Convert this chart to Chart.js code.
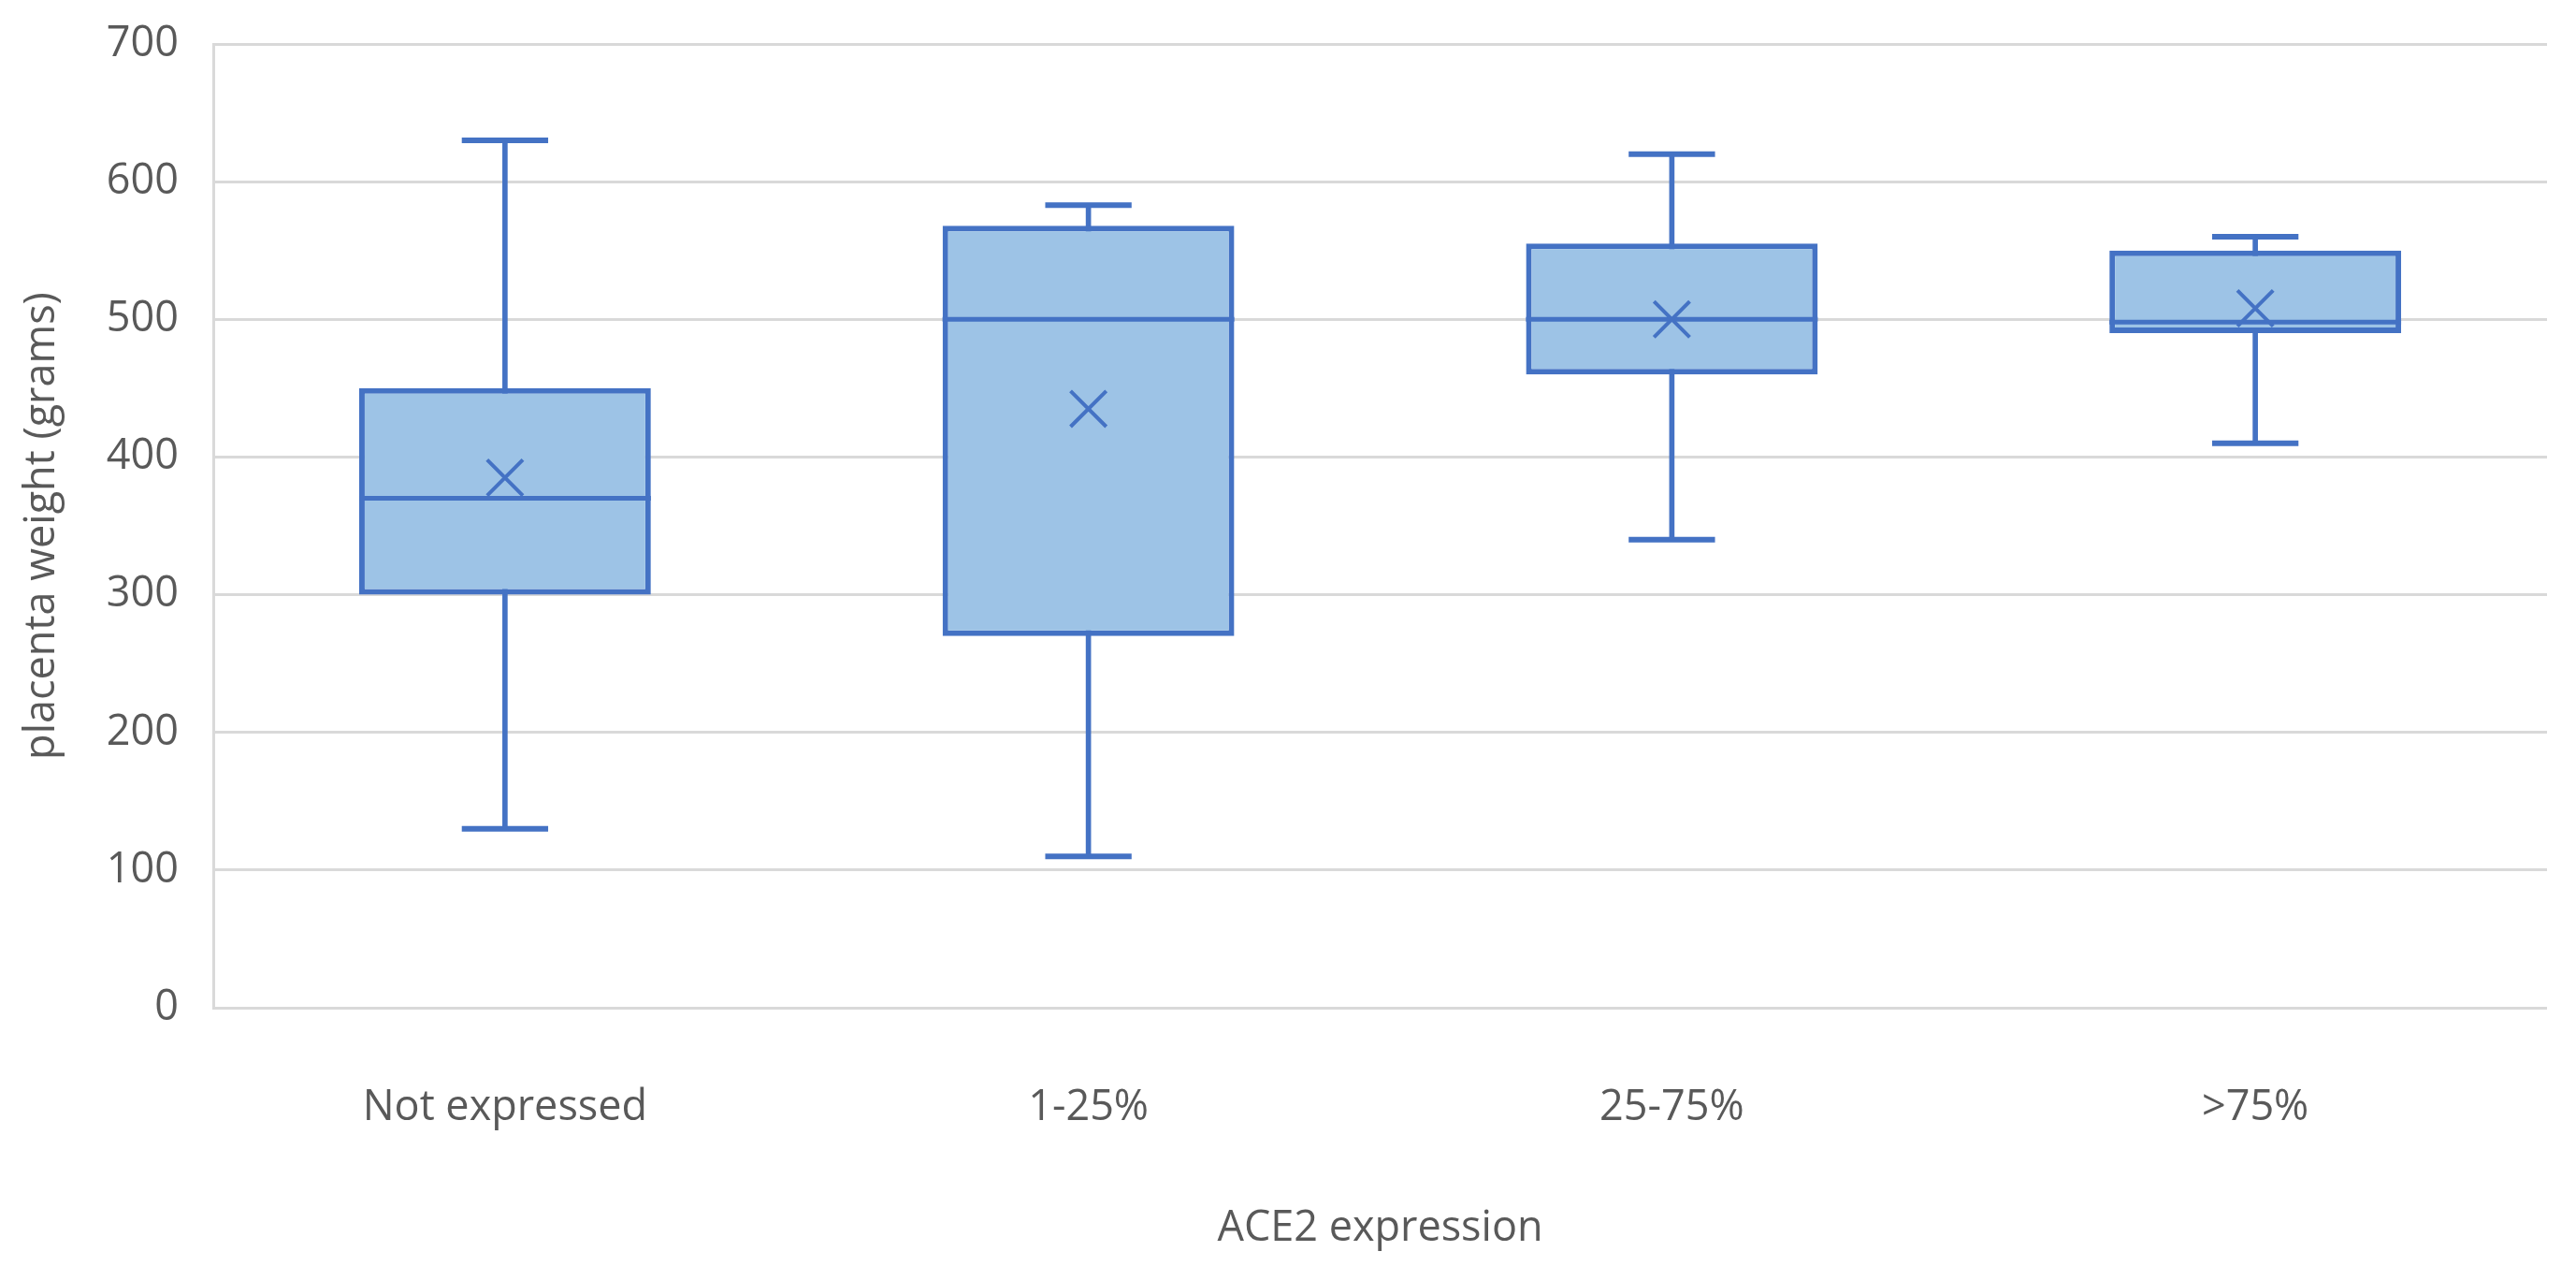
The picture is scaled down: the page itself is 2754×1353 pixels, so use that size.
<!DOCTYPE html>
<html>
<head>
<meta charset="utf-8">
<script src="https://cdn.jsdelivr.net/npm/chart.js@4.4.1/dist/chart.umd.min.js"></script>
<style>
  html, body { margin: 0; padding: 0; background: #ffffff; }
  #wrap { width: 2754px; height: 1353px; position: relative; }
</style>
</head>
<body>
<div id="wrap"><canvas id="boxChart"></canvas></div>
<script>
// Box plot values (grams)
const categories = ['Not expressed', '1-25%', '25-75%', '>75%'];
const minValues = [130, 110, 340, 410];
const q1Values = [300, 270, 460, 490];
const medianValues = [370, 500, 500, 498];
const q3Values = [450, 568, 555, 550];
const maxValues = [630, 583, 620, 560];
const meanValues = [385, 435, 500, 508];
const yTicks = [0, 100, 200, 300, 400, 500, 600, 700];

const lineBlue = '#4472C4';
const fillBlue = '#9DC3E6';
const textGrey = '#595959';
const gridGrey = '#D9D9D9';
const font = { family: "'Open Sans', 'Noto Sans', sans-serif", size: 45 };

// width of one category slot, in px, from the x scale
const slotWidth = ctx => {
    const x = ctx.chart.scales.x;
    return x ? x.width / categories.length : 600;
};

const ctxEl = document.getElementById('boxChart');
new Chart(ctxEl, {
    type: 'bar',
    data: {
        labels: categories,
        datasets: [
            {
                // whisker stems
                label: 'whiskers',
                data: categories.map((c, i) => [minValues[i], maxValues[i]]),
                backgroundColor: lineBlue,
                borderWidth: 0,
                barThickness: 5,
                grouped: false,
                order: 4
            },
            {
                // interquartile boxes
                label: 'boxes',
                data: categories.map((c, i) => [q1Values[i], q3Values[i]]),
                backgroundColor: fillBlue,
                borderColor: lineBlue,
                borderWidth: 6,
                borderSkipped: false,
                barPercentage: 0.5,
                categoryPercentage: 1,
                grouped: false,
                order: 3
            },
            {
                type: 'line',
                label: 'median',
                data: medianValues,
                showLine: false,
                pointStyle: 'line',
                borderColor: lineBlue,
                borderWidth: 5,
                radius: ctx => slotWidth(ctx) * 0.25,
                order: 2
            },
            {
                type: 'line',
                label: 'max',
                data: maxValues,
                showLine: false,
                pointStyle: 'line',
                borderColor: lineBlue,
                borderWidth: 6,
                radius: ctx => slotWidth(ctx) * 0.074,
                order: 1
            },
            {
                type: 'line',
                label: 'min',
                data: minValues,
                showLine: false,
                pointStyle: 'line',
                borderColor: lineBlue,
                borderWidth: 6,
                radius: ctx => slotWidth(ctx) * 0.074,
                order: 1
            },
            {
                type: 'line',
                label: 'mean',
                data: meanValues,
                showLine: false,
                pointStyle: 'crossRot',
                borderColor: lineBlue,
                borderWidth: 4,
                radius: 27,
                order: 0
            }
        ]
    },
    options: {
        responsive: true,
        maintainAspectRatio: false,
        animation: false,
        events: [],
        layout: {
            padding: { top: 47, right: 31, left: 0, bottom: 0 }
        },
        plugins: {
            legend: { display: false },
            tooltip: { enabled: false }
        },
        scales: {
            x: {
                offset: true,
                grid: { display: false, drawTicks: false },
                border: { display: false },
                ticks: { color: textGrey, font: font, padding: 80 },
                title: {
                    display: true,
                    text: 'ACE2 expression',
                    color: textGrey,
                    font: font,
                    padding: { top: 0, bottom: 13 }
                },
                afterFit: scale => {
                    scale.height = 276;
                    scale.paddingLeft = 0;
                    scale.paddingRight = 0;
                }
            },
            y: {
                min: 0,
                max: 700,
                afterBuildTicks: scale => {
                    scale.ticks = yTicks.map(v => ({ value: v }));
                },
                grid: { color: gridGrey, lineWidth: 3, drawTicks: false },
                border: { display: true, color: gridGrey, width: 3 },
                ticks: { color: textGrey, font: font, padding: 37 },
                title: {
                    display: true,
                    text: 'placenta weight (grams)',
                    color: textGrey,
                    font: font,
                    padding: { top: 18, bottom: 0 }
                },
                afterFit: scale => {
                    scale.width = 228;
                    scale.paddingTop = 0;
                    scale.paddingBottom = 0;
                }
            }
        }
    }
});
</script>
</body>
</html>
